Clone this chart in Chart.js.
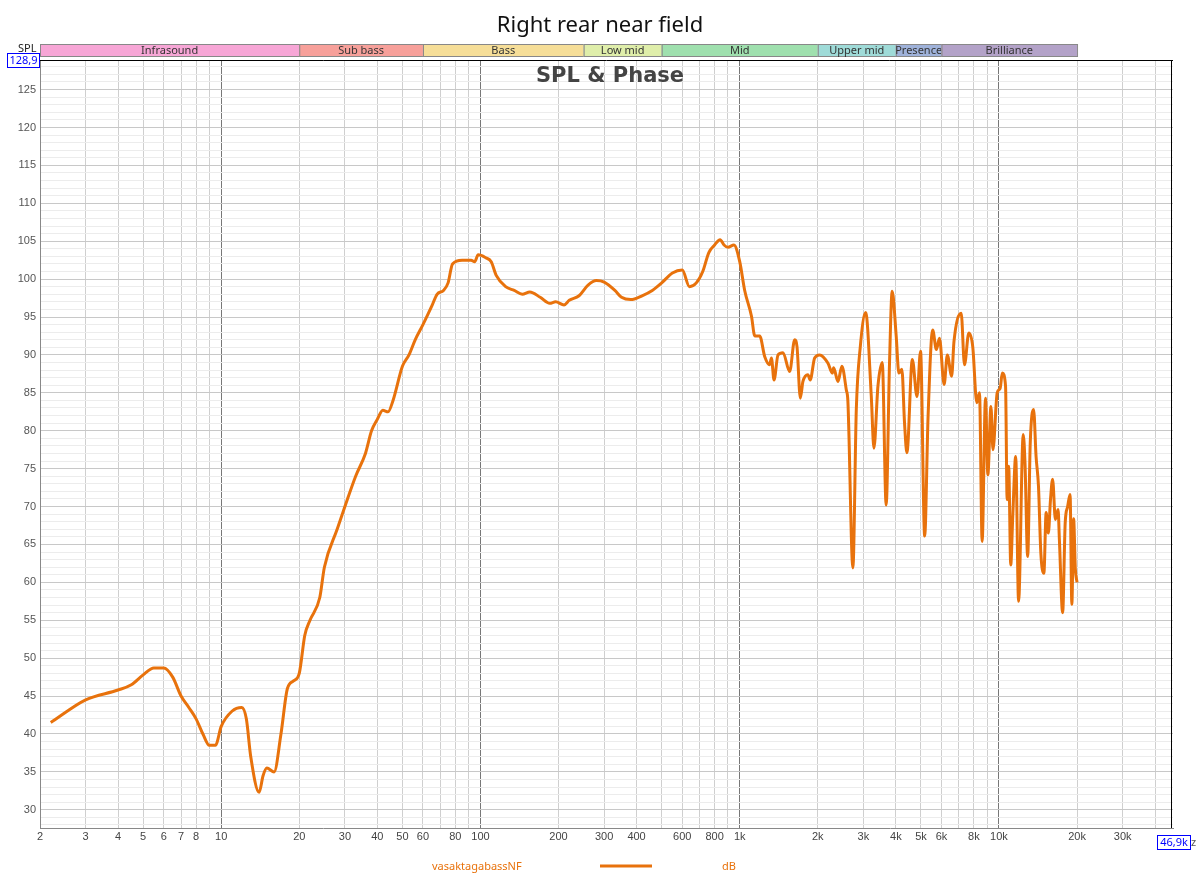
<!DOCTYPE html>
<html>
<head>
<meta charset="utf-8">
<script src="https://cdn.jsdelivr.net/npm/chart.js@4"></script>
<style>
  body { margin: 0; background: #fff; font-family: "Noto Sans", "DejaVu Sans", sans-serif; }
  #wrap { position: relative; width: 1200px; height: 877px; }
  #title { position: absolute; left: 0; width: 1200px; top: 8px; text-align: center; font-size: 22px; color: #111; }
  .lbl { position: absolute; font-size: 11px; }
</style>
</head>
<body>
<div id="wrap">
  <canvas id="chart" width="1200" height="877"></canvas>
  <div id="title">Right rear near field</div>
  <div class="lbl" style="left:18px;top:40px;color:#222;">SPL</div>
  <div class="lbl" style="left:432px;top:858px;color:#e8720c;">vasaktagabassNF</div>
  <div class="lbl" style="left:722px;top:858px;color:#e8720c;">dB</div>
</div>
<script>
const freqs = [2.2,3,4,4.5,5,5.5,6,6.5,7,7.5,8,8.5,9,9.5,10,11,12,12.5,13,14,14.5,15,16,17,18,19,20,21,22,24,25,28,30,33,36,38,40,42,44,46,50,53,56,60,65,68,72,75,78,85,92,95,98,105,110,115,125,135,145,155,170,185,195,210,220,240,260,280,300,330,350,380,420,460,500,550,600,640,680,720,760,800,840,870,900,950,
  1000,1045,1110,1143,1194,1248,1305,1325,1356,1405,1469,1558,1629,1663,1713,1753,1832,1870,1945,2033,2190,2276,2302,2393,2478,2576,2613,2732,2816,2918,3061,3216,3293,3413,3546,3671,3782,3872,4013,4110,4221,4322,4414,4632,4828,4982,5169,5327,5549,5735,5893,6143,6320,6567,6706,7148,7360,7650,7920,8210,8410,8610,8870,9060,9310,9480,9840,10100,10300,10600,10750,10900,11100,11300,11600,11900,12400,12600,12900,13200,13600,13900,14200,14500,14900,15200,15500,15800,16100,16500,16900,17100,17600,18000,18400,18800,19100,19400,19700,20000];
const spl = [41.5,44.5,45.8,46.5,47.8,48.7,48.7,47.5,45,43.5,42,40,38.5,38.5,41,43,43.5,42,37,32.3,34.5,35.5,35,40,46,47,48,53,55,58,62,67,70,74,77,80,81.5,82.7,82.5,84,88.5,90,92,94,96.5,98,98.5,99.5,102,102.5,102.5,102.3,103.2,102.8,102.3,100.5,99,98.5,98,98.3,97.6,96.8,97,96.6,97.2,97.8,99.2,99.8,99.6,98.5,97.6,97.3,97.8,98.5,99.5,100.8,101.2,99,99.5,101,103.5,104.5,105.2,104.5,104.2,104.5,
  102.3,98.5,95.1,92.5,92.5,89.8,88.7,89.6,86.7,90.0,90.3,87.8,92.0,91.1,84.3,86.5,87.4,86.7,89.6,90.0,88.9,87.6,88.3,86.5,88.5,85.4,83.9,61.9,82.8,91.1,95.6,84.6,77.7,85.9,89.0,70.2,88.9,98.4,92.5,87.6,88.1,81.0,77.1,89.4,84.5,90.5,66.1,81.9,93.3,90.7,92.2,86.1,90.0,87.2,91.8,95.5,88.7,92.9,91.1,83.7,85.0,65.4,84.3,74.2,83.2,77.5,85.0,85.6,87.6,85.9,70.9,75.3,62.3,68.7,76.6,57.5,79.5,75.7,63.4,78.4,82.8,76.6,72.7,63.9,61.2,69.2,66.5,70.9,73.6,68.3,69.6,65.6,56.0,67.8,70.0,71.6,57.1,68.4,61.8,60];

const xTickLabels = {2:"2",3:"3",4:"4",5:"5",6:"6",7:"7",8:"8",10:"10",20:"20",30:"30",40:"40",50:"50",60:"60",80:"80",100:"100",200:"200",300:"300",400:"400",600:"600",800:"800",1000:"1k",2000:"2k",3000:"3k",4000:"4k",5000:"5k",6000:"6k",8000:"8k",10000:"10k",20000:"20k",30000:"30k"};

const bandNames = ["Infrasound","Sub bass","Bass","Low mid","Mid","Upper mid","Presence","Brilliance"];
const bandEdges = [2,20,60,250,500,2000,4000,6000,20000];
const bandColors = ["#f7a6d6","#f7a09a","#f6de98","#dfeeaa","#9fe0ae","#9fdbd8","#9fb2da","#b3a2c8"];

const xMin = 2, xMax = 46900, yMin = 27.6, yMax = 128.9;

const overlay = {
  id: "overlay",
  afterDraw(chart) {
    const c = chart.ctx, a = chart.chartArea, x = chart.scales.x;
    c.save();
    // frequency bands bar
    c.font = "11px 'Noto Sans', sans-serif";
    c.textAlign = "center"; c.textBaseline = "middle";
    for (let i = 0; i < bandNames.length; i++) {
      const x0 = x.getPixelForValue(bandEdges[i]), x1 = x.getPixelForValue(bandEdges[i + 1]);
      c.fillStyle = bandColors[i];
      c.fillRect(x0, 44, x1 - x0, 13);
      c.strokeStyle = "#888"; c.lineWidth = 1;
      c.strokeRect(x0 + 0.5, 44.5, x1 - x0, 12);
      c.save();
      c.beginPath(); c.rect(x0, 44, x1 - x0, 13); c.clip();
      c.fillStyle = "#333";
      c.fillText(bandNames[i], (x0 + x1) / 2, 51);
      c.restore();
    }
    // borders
    c.strokeStyle = "#000"; c.lineWidth = 1;
    c.beginPath();
    c.moveTo(a.left, a.top + 0.5); c.lineTo(a.right, a.top + 0.5);
    c.moveTo(a.right - 1.5, a.top); c.lineTo(a.right - 1.5, a.bottom);
    c.stroke();
    // panel label
    c.font = "bold 21px 'DejaVu Sans', sans-serif";
    c.fillStyle = "#444";
    c.fillText("SPL & Phase", 610, 77);
    // value boxes
    c.font = "11px 'Noto Sans', sans-serif";
    c.fillStyle = "#fff"; c.strokeStyle = "#00f";
    c.fillRect(7, 53, 33, 15); c.strokeRect(7.5, 53.5, 32, 14);
    c.fillRect(1157, 835, 34, 15); c.strokeRect(1157.5, 835.5, 33, 14);
    c.fillStyle = "#00f";
    c.fillText("128,9", 23.5, 61);
    c.fillText("46,9k", 1174, 843);
    c.fillStyle = "#555"; c.textAlign = "left";
    c.fillText("z", 1191, 843);
    // legend line
    c.strokeStyle = "#e8720c"; c.lineWidth = 3;
    c.beginPath(); c.moveTo(600, 866); c.lineTo(652, 866); c.stroke();
    c.restore();
  }
};

new Chart(document.getElementById("chart"), {
  type: "line",
  data: {
    datasets: [{
      label: "dB",
      data: freqs.map((f, i) => ({ x: f, y: spl[i] })),
      borderColor: "#e8720c",
      borderWidth: 3,
      pointRadius: 0,
      cubicInterpolationMode: "monotone"
    }]
  },
  options: {
    responsive: false,
    animation: false,
    layout: { padding: { top: 60, right: 27, left: 0, bottom: 0 } },
    plugins: { legend: { display: false }, tooltip: { enabled: false } },
    scales: {
      x: {
        type: "logarithmic", min: xMin, max: xMax,
        afterFit: s => { s.height = 49; },
        afterBuildTicks: s => {
          const t = [];
          for (let d = 1; d <= 10000; d *= 10)
            for (let m = 1; m < 10; m++) {
              const v = m * d;
              if (v >= xMin && v <= xMax) t.push({ value: v });
            }
          s.ticks = t;
        },
        ticks: {
          autoSkip: false, maxRotation: 0, padding: 2,
          color: "#444", font: { size: 11 },
          callback: v => xTickLabels[v] || ""
        },
        grid: {
          color: c => [10, 100, 1000, 10000].includes(c.tick && c.tick.value) ? "#777" : "#cfcfcf",
          drawTicks: false
        },
        border: { color: "#888" }
      },
      y: {
        min: yMin, max: yMax,
        afterFit: s => { s.width = 40; },
        afterBuildTicks: s => {
          const t = [];
          for (let v = 28; v <= 128; v++) t.push({ value: v });
          s.ticks = t;
        },
        ticks: {
          autoSkip: false, padding: 4, color: "#555", font: { size: 11 },
          callback: v => v % 5 === 0 ? String(v) : ""
        },
        grid: {
          color: c => (c.tick && c.tick.value % 5 === 0) ? "#c8c8c8" : "#ececec",
          drawTicks: false
        },
        border: { color: "#888" }
      }
    }
  },
  plugins: [overlay]
});
</script>
</body>
</html>
